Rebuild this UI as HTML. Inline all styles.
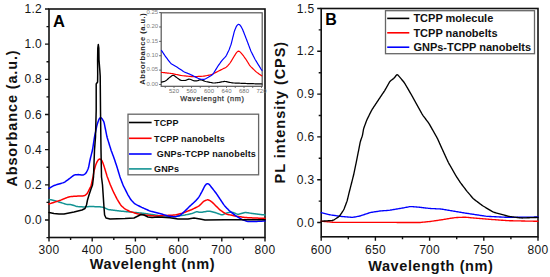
<!DOCTYPE html>
<html><head><meta charset="utf-8"><style>
html,body{margin:0;padding:0;background:#fff;}
body{width:550px;height:277px;overflow:hidden;}
svg{display:block;font-family:"Liberation Sans", sans-serif;}
</style></head><body>
<svg width="550" height="277" viewBox="0 0 550 277">
<rect width="550" height="277" fill="#fff"/>
<rect x="49" y="9" width="216" height="228.5" fill="none" stroke="#111111" stroke-width="1.6"/>
<rect x="321.2" y="8.5" width="216.8" height="228.3" fill="none" stroke="#111111" stroke-width="1.6"/>
<path d="M46.5,237.58 H49 M45,220.00 H49 M46.5,202.42 H49 M45,184.83 H49 M46.5,167.25 H49 M45,149.67 H49 M46.5,132.08 H49 M45,114.50 H49 M46.5,96.92 H49 M45,79.34 H49 M46.5,61.75 H49 M45,44.17 H49 M46.5,26.59 H49 M45,9.00 H49 M49.00,237.5 V241.5 M70.60,237.5 V240.0 M92.20,237.5 V241.5 M113.80,237.5 V240.0 M135.40,237.5 V241.5 M157.00,237.5 V240.0 M178.60,237.5 V241.5 M200.20,237.5 V240.0 M221.80,237.5 V241.5 M243.40,237.5 V240.0 M265.00,237.5 V241.5 M317.2,222.50 H321.2 M318.7,201.10 H321.2 M317.2,179.70 H321.2 M318.7,158.30 H321.2 M317.2,136.90 H321.2 M318.7,115.50 H321.2 M317.2,94.10 H321.2 M318.7,72.70 H321.2 M317.2,51.30 H321.2 M318.7,29.90 H321.2 M317.2,8.50 H321.2 M321.20,236.8 V240.8 M348.30,236.8 V239.3 M375.40,236.8 V240.8 M402.50,236.8 V239.3 M429.60,236.8 V240.8 M456.70,236.8 V239.3 M483.80,236.8 V240.8 M510.90,236.8 V239.3 M538.00,236.8 V240.8" stroke="#111111" stroke-width="1.4" fill="none"/>
<text x="42" y="224.10" text-anchor="end" font-size="12" letter-spacing="0.3" fill="#151515">0.0</text>
<text x="42" y="188.93" text-anchor="end" font-size="12" letter-spacing="0.3" fill="#151515">0.2</text>
<text x="42" y="153.77" text-anchor="end" font-size="12" letter-spacing="0.3" fill="#151515">0.4</text>
<text x="42" y="118.60" text-anchor="end" font-size="12" letter-spacing="0.3" fill="#151515">0.6</text>
<text x="42" y="83.44" text-anchor="end" font-size="12" letter-spacing="0.3" fill="#151515">0.8</text>
<text x="42" y="48.27" text-anchor="end" font-size="12" letter-spacing="0.3" fill="#151515">1.0</text>
<text x="42" y="13.10" text-anchor="end" font-size="12" letter-spacing="0.3" fill="#151515">1.2</text>
<text x="49.00" y="253.8" text-anchor="middle" font-size="12" letter-spacing="0.3" fill="#151515">300</text>
<text x="92.20" y="253.8" text-anchor="middle" font-size="12" letter-spacing="0.3" fill="#151515">400</text>
<text x="135.40" y="253.8" text-anchor="middle" font-size="12" letter-spacing="0.3" fill="#151515">500</text>
<text x="178.60" y="253.8" text-anchor="middle" font-size="12" letter-spacing="0.3" fill="#151515">600</text>
<text x="221.80" y="253.8" text-anchor="middle" font-size="12" letter-spacing="0.3" fill="#151515">700</text>
<text x="265.00" y="253.8" text-anchor="middle" font-size="12" letter-spacing="0.3" fill="#151515">800</text>
<text x="314.4" y="226.60" text-anchor="end" font-size="12" letter-spacing="0.3" fill="#151515">0.0</text>
<text x="314.4" y="183.80" text-anchor="end" font-size="12" letter-spacing="0.3" fill="#151515">0.3</text>
<text x="314.4" y="141.00" text-anchor="end" font-size="12" letter-spacing="0.3" fill="#151515">0.6</text>
<text x="314.4" y="98.20" text-anchor="end" font-size="12" letter-spacing="0.3" fill="#151515">0.9</text>
<text x="314.4" y="55.40" text-anchor="end" font-size="12" letter-spacing="0.3" fill="#151515">1.2</text>
<text x="314.4" y="12.60" text-anchor="end" font-size="12" letter-spacing="0.3" fill="#151515">1.5</text>
<text x="321.20" y="254.2" text-anchor="middle" font-size="12" letter-spacing="0.3" fill="#151515">600</text>
<text x="375.40" y="254.2" text-anchor="middle" font-size="12" letter-spacing="0.3" fill="#151515">650</text>
<text x="429.60" y="254.2" text-anchor="middle" font-size="12" letter-spacing="0.3" fill="#151515">700</text>
<text x="483.80" y="254.2" text-anchor="middle" font-size="12" letter-spacing="0.3" fill="#151515">750</text>
<text x="538.00" y="254.2" text-anchor="middle" font-size="12" letter-spacing="0.3" fill="#151515">800</text>
<text x="89.8" y="268.5" font-size="14.5" font-weight="bold" letter-spacing="0.6" fill="#111">Wavelenght (nm)</text>
<text x="368.2" y="270.5" font-size="14.5" font-weight="bold" letter-spacing="0.6" fill="#111">Wavelength (nm)</text>
<text transform="translate(17.0,186.6) rotate(-90)" font-size="14.5" font-weight="bold" letter-spacing="0.86" fill="#111">Absorbance (a.u.)</text>
<text transform="translate(284.7,183.4) rotate(-90)" font-size="14.5" font-weight="bold" letter-spacing="0.95" fill="#111">PL intensity (CPS)</text>
<text x="53" y="26.8" font-size="16.5" font-weight="bold" fill="#000">A</text>
<text x="325.2" y="24.6" font-size="16" font-weight="bold" fill="#000">B</text>
<rect x="161.2" y="12.8" width="101.0" height="73.5" fill="#fff" stroke="#555" stroke-width="1.2"/>
<path d="M159.2,84.50 H161.2 M159.2,70.12 H161.2 M159.2,55.74 H161.2 M159.2,41.36 H161.2 M159.2,26.98 H161.2 M159.2,12.60 H161.2 M165.25,86.3 V87.8 M174.00,86.3 V87.8 M182.75,86.3 V87.8 M191.50,86.3 V87.8 M200.25,86.3 V87.8 M209.00,86.3 V87.8 M217.75,86.3 V87.8 M226.50,86.3 V87.8 M235.25,86.3 V87.8 M244.00,86.3 V87.8 M252.75,86.3 V87.8 M261.50,86.3 V87.8" stroke="#555" stroke-width="1" fill="none"/>
<text x="158.2" y="85.70" text-anchor="end" font-size="6" fill="#808080">0.00</text>
<text x="158.2" y="71.32" text-anchor="end" font-size="6" fill="#808080">0.05</text>
<text x="158.2" y="56.94" text-anchor="end" font-size="6" fill="#808080">0.10</text>
<text x="158.2" y="42.56" text-anchor="end" font-size="6" fill="#808080">0.15</text>
<text x="158.2" y="28.18" text-anchor="end" font-size="6" fill="#808080">0.20</text>
<text x="158.2" y="13.80" text-anchor="end" font-size="6" fill="#808080">0.25</text>
<text x="174.00" y="93.4" text-anchor="middle" font-size="6" fill="#707070">520</text>
<text x="191.50" y="93.4" text-anchor="middle" font-size="6" fill="#707070">560</text>
<text x="209.00" y="93.4" text-anchor="middle" font-size="6" fill="#707070">600</text>
<text x="226.50" y="93.4" text-anchor="middle" font-size="6" fill="#707070">640</text>
<text x="244.00" y="93.4" text-anchor="middle" font-size="6" fill="#707070">680</text>
<text x="261.50" y="93.4" text-anchor="middle" font-size="6" fill="#707070">720</text>
<text x="180.2" y="101.3" font-size="7.3" letter-spacing="0.6" fill="#333" stroke="#333" stroke-width="0.25">Wavelenght (nm)</text>
<text transform="translate(145.0,84.7) rotate(-90)" font-size="7.5" font-weight="bold" letter-spacing="0.5" fill="#222">Absorbance (a.u.)</text>
<path d="M49.00,199.50 L50.07,199.68 L50.98,199.83 L51.95,200.03 L52.92,200.27 L53.88,200.54 L54.84,200.81 L55.81,201.09 L56.77,201.36 L57.73,201.64 L58.69,201.92 L59.65,202.21 L60.60,202.50 L61.56,202.80 L62.51,203.10 L63.47,203.40 L64.42,203.69 L65.38,203.99 L66.33,204.25 L67.31,204.43 L68.30,204.49 L69.30,204.50 L70.29,204.54 L71.27,204.67 L72.23,204.92 L73.18,205.23 L74.13,205.54 L75.08,205.86 L76.03,206.17 L76.99,206.41 L77.97,206.56 L78.97,206.64 L79.96,206.71 L80.96,206.78 L81.96,206.85 L82.96,206.92 L83.95,206.95 L84.95,206.91 L85.95,206.84 L86.94,206.75 L87.94,206.67 L88.94,206.59 L89.93,206.54 L90.93,206.53 L91.93,206.56 L92.93,206.59 L93.93,206.62 L94.93,206.65 L95.93,206.68 L96.93,206.71 L97.93,206.74 L98.93,206.77 L99.92,206.84 L100.91,206.97 L101.90,207.13 L102.88,207.31 L103.84,207.56 L104.77,207.91 L105.67,208.34 L106.57,208.78 L107.47,209.18 L108.41,209.48 L109.39,209.66 L110.38,209.80 L111.37,209.92 L112.36,210.05 L113.35,210.17 L114.35,210.29 L115.34,210.42 L116.33,210.54 L117.32,210.67 L118.32,210.79 L119.31,210.91 L120.30,211.02 L121.30,211.13 L122.29,211.23 L123.29,211.33 L124.28,211.43 L125.28,211.53 L126.27,211.63 L127.27,211.73 L128.26,211.83 L129.26,211.93 L130.25,212.03 L131.25,212.12 L132.24,212.22 L133.24,212.32 L134.23,212.42 L135.23,212.52 L136.22,212.62 L137.22,212.72 L138.21,212.82 L139.21,212.92 L140.20,213.02 L141.20,213.12 L142.19,213.22 L143.19,213.32 L144.18,213.42 L145.17,213.54 L146.17,213.68 L147.15,213.82 L148.14,213.97 L149.13,214.12 L150.12,214.27 L151.11,214.42 L152.10,214.56 L153.09,214.71 L154.08,214.86 L155.07,215.01 L156.05,215.17 L157.04,215.33 L158.03,215.48 L159.02,215.64 L160.01,215.76 L161.00,215.84 L162.00,215.89 L163.00,215.94 L164.00,215.99 L165.00,216.03 L166.00,216.08 L167.00,216.13 L167.99,216.17 L168.99,216.22 L169.99,216.27 L170.99,216.31 L171.99,216.36 L172.99,216.41 L173.99,216.44 L174.98,216.44 L175.98,216.34 L176.96,216.20 L177.95,216.06 L178.94,215.91 L179.93,215.76 L180.92,215.61 L181.91,215.46 L182.90,215.32 L183.89,215.16 L184.87,215.00 L185.85,214.81 L186.83,214.61 L187.81,214.40 L188.79,214.19 L189.77,213.98 L190.74,213.76 L191.71,213.52 L192.66,213.21 L193.59,212.86 L194.52,212.49 L195.45,212.13 L196.38,211.84 L197.32,211.76 L198.26,211.94 L199.21,212.20 L200.18,212.34 L201.15,212.29 L202.14,212.14 L203.13,211.98 L204.11,211.81 L205.10,211.65 L206.08,211.49 L207.07,211.32 L208.06,211.18 L209.04,211.14 L210.01,211.27 L210.98,211.50 L211.95,211.74 L212.92,211.98 L213.89,212.23 L214.86,212.49 L215.81,212.80 L216.75,213.13 L217.69,213.46 L218.63,213.80 L219.58,214.13 L220.52,214.46 L221.46,214.69 L222.39,214.69 L223.32,214.43 L224.24,214.07 L225.16,213.68 L226.09,213.30 L227.01,212.92 L227.95,212.61 L228.92,212.40 L229.91,212.26 L230.90,212.16 L231.88,212.16 L232.82,212.38 L233.75,212.73 L234.67,213.11 L235.60,213.50 L236.52,213.87 L237.45,214.17 L238.39,214.25 L239.34,214.08 L240.29,213.81 L241.25,213.52 L242.21,213.24 L243.17,212.95 L244.13,212.69 L245.10,212.54 L246.08,212.57 L247.07,212.70 L248.06,212.84 L249.05,212.98 L250.03,213.13 L251.02,213.27 L252.01,213.41 L253.00,213.56 L253.99,213.69 L254.99,213.82 L255.98,213.93 L256.97,214.05 L257.97,214.17 L258.96,214.29 L259.95,214.40 L260.95,214.52 L261.94,214.64 L262.93,214.76 L263.89,214.87 L264.61,214.95 L265.00,215.00" fill="none" stroke="#139393" stroke-width="1.5" stroke-linejoin="round" stroke-linecap="round"/>
<path d="M49.00,204.00 L50.03,203.66 L50.90,203.37 L51.85,203.05 L52.79,202.74 L53.74,202.42 L54.69,202.10 L55.64,201.79 L56.59,201.47 L57.54,201.15 L58.49,200.84 L59.44,200.52 L60.38,200.20 L61.32,199.85 L62.25,199.48 L63.17,199.10 L64.09,198.71 L65.02,198.33 L65.94,197.95 L66.88,197.60 L67.83,197.31 L68.80,197.05 L69.77,196.81 L70.74,196.61 L71.73,196.48 L72.72,196.39 L73.72,196.33 L74.72,196.27 L75.72,196.21 L76.72,196.14 L77.71,196.08 L78.71,196.03 L79.71,196.01 L80.71,196.00 L81.71,196.00 L82.71,195.98 L83.67,195.87 L84.57,195.54 L85.42,195.04 L86.23,194.47 L86.94,193.81 L87.48,193.00 L87.94,192.12 L88.39,191.22 L88.84,190.33 L89.28,189.43 L89.73,188.54 L90.18,187.64 L90.61,186.74 L90.97,185.82 L91.24,184.86 L91.47,183.89 L91.69,182.91 L91.90,181.94 L92.12,180.96 L92.34,179.98 L92.55,179.01 L92.77,178.03 L92.97,177.05 L93.15,176.07 L93.32,175.08 L93.48,174.10 L93.65,173.11 L93.82,172.13 L94.01,171.15 L94.25,170.18 L94.51,169.21 L94.79,168.25 L95.06,167.29 L95.34,166.33 L95.61,165.37 L95.92,164.42 L96.29,163.49 L96.71,162.59 L97.16,161.69 L97.63,160.82 L98.19,160.02 L98.90,159.38 L99.67,159.01 L100.42,159.13 L101.12,159.67 L101.75,160.40 L102.23,161.26 L102.60,162.17 L102.95,163.11 L103.29,164.05 L103.63,164.99 L103.96,165.94 L104.26,166.89 L104.55,167.85 L104.84,168.80 L105.13,169.76 L105.42,170.72 L105.70,171.68 L105.99,172.63 L106.28,173.59 L106.57,174.55 L106.86,175.50 L107.18,176.45 L107.52,177.39 L107.87,178.33 L108.22,179.26 L108.58,180.20 L108.93,181.14 L109.28,182.07 L109.63,183.01 L109.99,183.94 L110.37,184.87 L110.77,185.79 L111.16,186.70 L111.55,187.62 L111.95,188.54 L112.34,189.46 L112.74,190.38 L113.16,191.29 L113.59,192.19 L114.04,193.08 L114.49,193.98 L114.94,194.87 L115.38,195.76 L115.83,196.66 L116.28,197.55 L116.74,198.44 L117.22,199.32 L117.73,200.18 L118.25,201.03 L118.77,201.88 L119.30,202.73 L119.82,203.58 L120.35,204.43 L120.93,205.24 L121.59,205.97 L122.32,206.65 L123.07,207.31 L123.83,207.97 L124.60,208.59 L125.42,209.15 L126.29,209.64 L127.18,210.09 L128.07,210.54 L128.97,210.98 L129.88,211.39 L130.81,211.74 L131.76,212.05 L132.72,212.35 L133.67,212.65 L134.62,212.95 L135.58,213.24 L136.53,213.54 L137.49,213.81 L138.47,214.04 L139.45,214.20 L140.44,214.35 L141.43,214.49 L142.42,214.63 L143.41,214.77 L144.40,214.91 L145.39,215.03 L146.39,215.14 L147.38,215.24 L148.38,215.34 L149.37,215.44 L150.37,215.54 L151.36,215.64 L152.36,215.74 L153.35,215.83 L154.35,215.91 L155.34,215.95 L156.34,215.93 L157.34,215.88 L158.34,215.83 L159.34,215.78 L160.34,215.73 L161.33,215.68 L162.33,215.63 L163.33,215.58 L164.33,215.53 L165.33,215.48 L166.33,215.43 L167.33,215.38 L168.33,215.33 L169.32,215.28 L170.32,215.23 L171.32,215.18 L172.32,215.13 L173.32,215.08 L174.31,215.01 L175.30,214.88 L176.28,214.67 L177.25,214.44 L178.22,214.20 L179.19,213.95 L180.16,213.71 L181.13,213.47 L182.10,213.22 L183.06,212.94 L184.00,212.61 L184.93,212.25 L185.86,211.89 L186.79,211.52 L187.73,211.16 L188.66,210.80 L189.59,210.44 L190.52,210.07 L191.45,209.70 L192.36,209.30 L193.26,208.87 L194.16,208.42 L195.05,207.97 L195.95,207.53 L196.84,207.08 L197.73,206.62 L198.59,206.13 L199.39,205.54 L200.12,204.87 L200.83,204.17 L201.54,203.46 L202.24,202.76 L202.96,202.06 L203.70,201.41 L204.52,200.88 L205.43,200.47 L206.36,200.13 L207.28,199.86 L208.19,199.85 L209.05,200.19 L209.90,200.69 L210.75,201.22 L211.57,201.78 L212.35,202.40 L213.08,203.08 L213.79,203.79 L214.50,204.50 L215.20,205.20 L215.91,205.91 L216.62,206.62 L217.32,207.32 L218.03,208.03 L218.74,208.74 L219.46,209.43 L220.21,210.08 L221.01,210.67 L221.84,211.23 L222.68,211.78 L223.51,212.34 L224.34,212.89 L225.18,213.43 L226.05,213.89 L226.99,214.20 L227.96,214.43 L228.93,214.65 L229.91,214.87 L230.88,215.09 L231.86,215.30 L232.84,215.52 L233.81,215.73 L234.79,215.94 L235.78,216.11 L236.76,216.26 L237.75,216.41 L238.74,216.56 L239.73,216.71 L240.72,216.86 L241.71,217.01 L242.70,217.15 L243.69,217.30 L244.68,217.43 L245.67,217.52 L246.67,217.58 L247.67,217.63 L248.67,217.68 L249.67,217.73 L250.67,217.78 L251.66,217.83 L252.66,217.88 L253.66,217.93 L254.66,217.98 L255.66,218.03 L256.66,218.07 L257.66,218.11 L258.66,218.15 L259.66,218.19 L260.66,218.23 L261.65,218.27 L262.65,218.31 L263.62,218.34 L264.41,218.38 L265.00,218.40" fill="none" stroke="#ff0000" stroke-width="1.5" stroke-linejoin="round" stroke-linecap="round"/>
<path d="M49.00,188.50 L49.93,187.94 L50.72,187.47 L51.57,186.96 L52.43,186.44 L53.30,185.95 L54.19,185.51 L55.12,185.17 L56.08,184.88 L57.04,184.59 L57.99,184.30 L58.95,184.01 L59.91,183.73 L60.87,183.44 L61.82,183.15 L62.78,182.86 L63.71,182.51 L64.58,182.05 L65.41,181.51 L66.24,180.94 L67.05,180.36 L67.87,179.79 L68.68,179.20 L69.48,178.60 L70.27,177.98 L71.05,177.36 L71.83,176.74 L72.61,176.12 L73.41,175.54 L74.28,175.10 L75.22,174.86 L76.21,174.73 L77.20,174.63 L78.19,174.61 L79.18,174.70 L80.16,174.85 L81.15,175.00 L82.13,175.11 L83.06,175.03 L83.93,174.65 L84.76,174.11 L85.53,173.50 L86.15,172.77 L86.64,171.92 L87.08,171.02 L87.50,170.11 L87.92,169.21 L88.30,168.29 L88.59,167.34 L88.80,166.37 L88.99,165.38 L89.17,164.40 L89.36,163.42 L89.54,162.43 L89.73,161.45 L89.92,160.47 L90.14,159.50 L90.37,158.52 L90.61,157.55 L90.85,156.58 L91.10,155.61 L91.34,154.64 L91.58,153.67 L91.82,152.70 L92.07,151.73 L92.30,150.76 L92.51,149.78 L92.68,148.80 L92.84,147.81 L92.99,146.82 L93.14,145.83 L93.29,144.85 L93.45,143.86 L93.60,142.87 L93.75,141.88 L93.90,140.89 L94.05,139.90 L94.21,138.92 L94.36,137.93 L94.53,136.94 L94.72,135.96 L94.92,134.98 L95.12,134.00 L95.33,133.02 L95.53,132.04 L95.74,131.07 L95.94,130.09 L96.14,129.11 L96.35,128.13 L96.55,127.15 L96.76,126.17 L96.99,125.20 L97.27,124.24 L97.57,123.29 L97.89,122.34 L98.20,121.39 L98.53,120.45 L98.89,119.53 L99.37,118.68 L99.96,117.98 L100.63,117.69 L101.34,118.01 L102.00,118.69 L102.56,119.51 L103.07,120.37 L103.54,121.24 L103.94,122.15 L104.21,123.10 L104.42,124.08 L104.61,125.06 L104.81,126.04 L105.00,127.02 L105.20,128.00 L105.40,128.98 L105.59,129.96 L105.79,130.94 L105.98,131.92 L106.18,132.90 L106.38,133.89 L106.57,134.87 L106.77,135.85 L106.99,136.82 L107.25,137.78 L107.54,138.74 L107.83,139.70 L108.12,140.65 L108.42,141.61 L108.71,142.57 L109.01,143.52 L109.30,144.48 L109.59,145.43 L109.89,146.39 L110.18,147.34 L110.48,148.30 L110.78,149.25 L111.09,150.20 L111.43,151.14 L111.78,152.08 L112.13,153.02 L112.48,153.95 L112.83,154.89 L113.18,155.83 L113.53,156.76 L113.88,157.70 L114.21,158.64 L114.53,159.59 L114.85,160.54 L115.16,161.49 L115.48,162.44 L115.80,163.39 L116.11,164.34 L116.43,165.28 L116.74,166.23 L117.05,167.19 L117.34,168.14 L117.63,169.10 L117.92,170.06 L118.20,171.01 L118.49,171.97 L118.78,172.93 L119.07,173.89 L119.35,174.85 L119.64,175.80 L119.94,176.76 L120.27,177.70 L120.62,178.64 L120.97,179.58 L121.32,180.51 L121.67,181.45 L122.02,182.38 L122.37,183.32 L122.73,184.25 L123.12,185.17 L123.54,186.08 L123.99,186.97 L124.43,187.87 L124.88,188.76 L125.33,189.66 L125.78,190.55 L126.22,191.45 L126.67,192.34 L127.12,193.23 L127.57,194.13 L128.03,195.01 L128.53,195.88 L129.04,196.74 L129.56,197.60 L130.07,198.45 L130.60,199.30 L131.19,200.10 L131.85,200.84 L132.55,201.55 L133.26,202.26 L133.97,202.96 L134.71,203.62 L135.51,204.20 L136.38,204.68 L137.27,205.14 L138.17,205.58 L139.06,206.03 L139.95,206.48 L140.85,206.92 L141.75,207.36 L142.66,207.78 L143.57,208.19 L144.49,208.59 L145.40,208.99 L146.32,209.39 L147.23,209.79 L148.15,210.19 L149.07,210.58 L150.00,210.94 L150.95,211.23 L151.92,211.48 L152.89,211.72 L153.86,211.97 L154.83,212.21 L155.80,212.45 L156.77,212.69 L157.74,212.94 L158.71,213.18 L159.68,213.43 L160.64,213.71 L161.60,214.00 L162.55,214.30 L163.51,214.60 L164.46,214.89 L165.41,215.19 L166.37,215.49 L167.33,215.77 L168.30,216.00 L169.28,216.18 L170.27,216.32 L171.26,216.47 L172.25,216.61 L173.24,216.74 L174.22,216.85 L175.20,216.83 L176.17,216.64 L177.13,216.36 L178.08,216.07 L179.03,215.77 L179.93,215.38 L180.73,214.82 L181.49,214.16 L182.23,213.49 L182.97,212.82 L183.72,212.15 L184.46,211.48 L185.18,210.80 L185.90,210.10 L186.61,209.39 L187.31,208.69 L188.02,207.98 L188.73,207.27 L189.44,206.57 L190.16,205.87 L190.89,205.20 L191.64,204.53 L192.38,203.86 L193.12,203.19 L193.86,202.52 L194.60,201.84 L195.30,201.13 L195.98,200.40 L196.64,199.65 L197.31,198.90 L197.97,198.15 L198.61,197.39 L199.18,196.58 L199.69,195.72 L200.18,194.85 L200.65,193.97 L201.13,193.09 L201.61,192.21 L202.08,191.33 L202.53,190.44 L202.98,189.54 L203.43,188.65 L203.87,187.75 L204.33,186.86 L204.81,185.99 L205.37,185.17 L206.01,184.43 L206.72,183.86 L207.52,183.67 L208.38,183.89 L209.16,184.41 L209.82,185.12 L210.43,185.91 L211.03,186.71 L211.64,187.51 L212.25,188.30 L212.87,189.08 L213.49,189.87 L214.12,190.65 L214.74,191.43 L215.36,192.21 L215.97,193.01 L216.54,193.82 L217.10,194.65 L217.66,195.48 L218.21,196.32 L218.77,197.15 L219.32,197.98 L219.88,198.81 L220.43,199.64 L220.98,200.48 L221.54,201.31 L222.09,202.14 L222.65,202.97 L223.21,203.80 L223.78,204.62 L224.40,205.40 L225.05,206.16 L225.72,206.90 L226.40,207.64 L227.07,208.38 L227.74,209.12 L228.42,209.85 L229.13,210.55 L229.89,211.19 L230.68,211.82 L231.46,212.43 L232.25,213.05 L233.03,213.67 L233.82,214.29 L234.61,214.90 L235.40,215.51 L236.22,216.08 L237.07,216.61 L237.93,217.11 L238.80,217.60 L239.67,218.10 L240.54,218.59 L241.41,219.09 L242.28,219.57 L243.18,219.99 L244.12,220.33 L245.07,220.62 L246.03,220.91 L246.99,221.19 L247.96,221.40 L248.95,221.48 L249.95,221.50 L250.95,221.50 L251.95,221.50 L252.95,221.50 L253.95,221.50 L254.95,221.48 L255.94,221.45 L256.94,221.40 L257.94,221.35 L258.94,221.30 L259.94,221.25 L260.94,221.20 L261.94,221.15 L262.93,221.10 L263.89,221.06 L264.62,221.02 L265.00,221.00" fill="none" stroke="#0000ff" stroke-width="1.5" stroke-linejoin="round" stroke-linecap="round"/>
<path d="M49.00,212.50 L54.00,213.50 L59.00,214.00 L64.00,214.00 L69.00,213.00 L74.00,212.00 L82.00,210.00 L85.00,208.50 L86.50,205.00 L87.50,200.00 L89.00,195.00 L91.00,189.00 L92.50,185.00 L93.50,177.00 L94.50,150.00 L95.50,137.00 L96.20,110.00 L96.20,84.00 L97.60,82.00 L97.70,74.00 L97.60,60.00 L97.80,48.00 L98.30,44.50 L98.80,48.00 L99.00,60.00 L99.80,70.00 L100.20,76.00 L100.50,110.00 L101.00,150.00 L101.50,177.00 L102.50,185.00 L103.50,200.00 L104.20,210.00 L104.60,215.00 L106.00,218.00 L110.00,219.00 L125.00,218.50 L134.00,218.00 L138.00,216.00 L141.00,214.50 L144.00,215.00 L148.00,217.00 L152.00,217.50 L158.00,217.00 L170.00,217.80 L178.00,219.00 L188.00,219.00 L194.00,218.00 L200.00,219.00 L205.00,220.00 L225.00,219.70 L265.00,219.70" fill="none" stroke="#000000" stroke-width="1.5" stroke-linejoin="round" stroke-linecap="round"/>
<path d="M161.50,82.20 L162.54,81.91 L163.43,81.67 L164.39,81.39 L165.30,81.03 L166.12,80.50 L166.89,79.87 L167.64,79.21 L168.39,78.55 L169.14,77.89 L169.91,77.25 L170.70,76.65 L171.51,76.06 L172.32,75.53 L173.13,75.28 L173.94,75.55 L174.74,76.10 L175.55,76.68 L176.36,77.27 L177.16,77.87 L177.97,78.47 L178.77,79.06 L179.58,79.64 L180.41,80.13 L181.32,80.41 L182.30,80.49 L183.29,80.50 L184.29,80.47 L185.26,80.34 L186.22,80.07 L187.15,79.74 L188.09,79.41 L189.02,79.19 L189.95,79.25 L190.87,79.55 L191.79,79.93 L192.71,80.32 L193.65,80.64 L194.62,80.84 L195.60,80.95 L196.58,80.95 L197.52,80.77 L198.42,80.39 L199.31,79.96 L200.20,79.70 L201.12,79.79 L202.04,80.10 L202.97,80.47 L203.90,80.84 L204.83,81.20 L205.77,81.53 L206.74,81.77 L207.72,81.96 L208.70,82.15 L209.68,82.34 L210.66,82.52 L211.65,82.71 L212.63,82.89 L213.61,83.00 L214.60,82.98 L215.60,82.88 L216.59,82.77 L217.58,82.66 L218.58,82.53 L219.56,82.36 L220.54,82.17 L221.52,81.96 L222.50,81.75 L223.47,81.56 L224.45,81.45 L225.43,81.51 L226.41,81.68 L227.39,81.88 L228.37,82.08 L229.35,82.29 L230.33,82.49 L231.31,82.69 L232.29,82.85 L233.28,82.94 L234.28,82.99 L235.28,83.04 L236.28,83.08 L237.28,83.13 L238.28,83.17 L239.28,83.22 L240.28,83.27 L241.27,83.31 L242.27,83.36 L243.27,83.40 L244.27,83.43 L245.27,83.47 L246.27,83.50 L247.27,83.53 L248.27,83.56 L249.27,83.59 L250.27,83.63 L251.27,83.66 L252.27,83.69 L253.27,83.72 L254.27,83.75 L255.27,83.79 L256.27,83.82 L257.27,83.85 L258.26,83.88 L259.26,83.91 L260.25,83.94 L261.11,83.97 L262.00,84.00" fill="none" stroke="#000000" stroke-width="1.2" stroke-linejoin="round" stroke-linecap="round"/>
<path d="M161.50,72.40 L162.58,72.51 L163.49,72.61 L164.48,72.72 L165.48,72.82 L166.47,72.93 L167.47,73.03 L168.46,73.14 L169.45,73.25 L170.45,73.37 L171.43,73.52 L172.42,73.71 L173.40,73.90 L174.38,74.10 L175.36,74.30 L176.34,74.50 L177.32,74.70 L178.30,74.89 L179.28,75.09 L180.26,75.29 L181.24,75.47 L182.23,75.62 L183.22,75.74 L184.21,75.84 L185.21,75.94 L186.20,76.04 L187.20,76.14 L188.19,76.25 L189.19,76.35 L190.18,76.45 L191.18,76.54 L192.18,76.62 L193.17,76.65 L194.17,76.63 L195.17,76.59 L196.17,76.54 L197.17,76.50 L198.17,76.45 L199.16,76.40 L200.16,76.36 L201.16,76.31 L202.16,76.26 L203.16,76.19 L204.15,76.07 L205.13,75.90 L206.11,75.72 L207.10,75.53 L208.08,75.34 L209.06,75.15 L210.04,74.95 L211.01,74.72 L211.94,74.38 L212.84,73.96 L213.73,73.52 L214.63,73.07 L215.52,72.61 L216.41,72.16 L217.30,71.71 L218.20,71.26 L219.09,70.81 L219.98,70.36 L220.88,69.91 L221.77,69.46 L222.67,69.02 L223.56,68.57 L224.45,68.12 L225.34,67.67 L226.19,67.15 L226.94,66.52 L227.62,65.80 L228.27,65.05 L228.93,64.29 L229.58,63.53 L230.19,62.75 L230.75,61.92 L231.28,61.07 L231.80,60.22 L232.31,59.36 L232.83,58.51 L233.35,57.65 L233.86,56.79 L234.39,55.94 L234.91,55.09 L235.43,54.24 L235.96,53.39 L236.55,52.59 L237.23,51.88 L237.97,51.34 L238.73,51.17 L239.51,51.51 L240.28,52.11 L240.97,52.81 L241.63,53.57 L242.26,54.34 L242.89,55.12 L243.48,55.92 L244.07,56.73 L244.65,57.55 L245.23,58.36 L245.81,59.18 L246.37,60.00 L246.91,60.85 L247.43,61.70 L247.94,62.56 L248.46,63.41 L248.98,64.27 L249.51,65.11 L250.10,65.91 L250.78,66.64 L251.49,67.34 L252.21,68.03 L252.92,68.73 L253.64,69.43 L254.36,70.12 L255.08,70.82 L255.81,71.50 L256.57,72.14 L257.37,72.75 L258.18,73.32 L259.00,73.90 L259.82,74.47 L260.61,75.03 L261.24,75.48 L261.70,75.80" fill="none" stroke="#ff0000" stroke-width="1.2" stroke-linejoin="round" stroke-linecap="round"/>
<path d="M161.50,50.50 L162.10,51.40 L162.61,52.17 L163.16,53.00 L163.72,53.83 L164.27,54.66 L164.83,55.49 L165.40,56.31 L165.98,57.12 L166.58,57.92 L167.19,58.72 L167.79,59.52 L168.40,60.31 L169.00,61.11 L169.61,61.90 L170.22,62.69 L170.89,63.41 L171.67,64.02 L172.52,64.54 L173.38,65.05 L174.24,65.55 L175.10,66.06 L175.97,66.56 L176.83,67.07 L177.68,67.60 L178.51,68.14 L179.35,68.70 L180.18,69.25 L181.01,69.81 L181.84,70.36 L182.68,70.91 L183.52,71.44 L184.39,71.92 L185.30,72.34 L186.22,72.72 L187.15,73.11 L188.07,73.49 L188.99,73.88 L189.91,74.27 L190.82,74.68 L191.72,75.11 L192.62,75.56 L193.51,76.01 L194.41,76.45 L195.30,76.90 L196.20,77.35 L197.09,77.80 L197.99,78.24 L198.90,78.63 L199.84,78.91 L200.82,79.09 L201.81,79.22 L202.80,79.33 L203.77,79.32 L204.70,79.09 L205.60,78.69 L206.50,78.25 L207.39,77.79 L208.26,77.32 L209.13,76.81 L209.98,76.29 L210.84,75.77 L211.68,75.24 L212.45,74.63 L213.07,73.89 L213.62,73.06 L214.15,72.21 L214.68,71.36 L215.21,70.51 L215.73,69.66 L216.26,68.81 L216.79,67.96 L217.32,67.12 L217.87,66.28 L218.43,65.45 L219.00,64.63 L219.58,63.81 L220.15,62.99 L220.72,62.17 L221.30,61.36 L221.90,60.56 L222.54,59.80 L223.23,59.08 L223.93,58.37 L224.64,57.66 L225.32,56.93 L225.93,56.15 L226.42,55.30 L226.87,54.40 L227.30,53.50 L227.74,52.60 L228.17,51.70 L228.60,50.80 L229.01,49.89 L229.38,48.96 L229.73,48.02 L230.07,47.08 L230.41,46.14 L230.76,45.20 L231.08,44.26 L231.36,43.30 L231.61,42.33 L231.85,41.36 L232.10,40.39 L232.34,39.42 L232.58,38.45 L232.82,37.48 L233.06,36.51 L233.30,35.54 L233.54,34.57 L233.78,33.60 L234.02,32.63 L234.28,31.66 L234.59,30.71 L234.95,29.78 L235.32,28.86 L235.71,27.93 L236.10,27.01 L236.56,26.14 L237.15,25.36 L237.82,24.67 L238.53,24.29 L239.25,24.49 L239.96,25.08 L240.59,25.83 L241.12,26.67 L241.60,27.54 L242.07,28.43 L242.52,29.32 L242.91,30.23 L243.28,31.16 L243.65,32.09 L244.01,33.03 L244.37,33.96 L244.74,34.89 L245.10,35.82 L245.46,36.75 L245.82,37.69 L246.18,38.62 L246.55,39.55 L246.91,40.48 L247.27,41.42 L247.63,42.35 L247.98,43.29 L248.32,44.22 L248.67,45.16 L249.02,46.10 L249.37,47.04 L249.72,47.97 L250.06,48.91 L250.41,49.85 L250.79,50.77 L251.20,51.68 L251.65,52.58 L252.10,53.47 L252.55,54.36 L253.00,55.25 L253.45,56.15 L253.90,57.04 L254.36,57.93 L254.81,58.82 L255.29,59.70 L255.79,60.56 L256.31,61.42 L256.84,62.27 L257.36,63.12 L257.88,63.97 L258.41,64.82 L258.93,65.68 L259.45,66.53 L259.98,67.38 L260.51,68.23 L261.04,69.06 L261.52,69.77 L262.00,70.50" fill="none" stroke="#0000ff" stroke-width="1.2" stroke-linejoin="round" stroke-linecap="round"/>
<path d="M321.20,221.20 L322.28,221.30 L323.20,221.39 L324.19,221.48 L325.18,221.57 L326.18,221.66 L327.17,221.76 L328.17,221.85 L329.17,221.94 L330.16,222.04 L331.16,222.13 L332.15,222.21 L333.15,222.28 L334.15,222.30 L335.15,222.30 L336.15,222.31 L337.15,222.31 L338.15,222.31 L339.15,222.31 L340.15,222.32 L341.15,222.32 L342.15,222.32 L343.15,222.32 L344.15,222.33 L345.15,222.33 L346.15,222.33 L347.15,222.33 L348.15,222.33 L349.15,222.34 L350.15,222.34 L351.15,222.34 L352.15,222.34 L353.15,222.35 L354.15,222.35 L355.15,222.35 L356.15,222.35 L357.15,222.36 L358.15,222.36 L359.15,222.36 L360.15,222.36 L361.15,222.36 L362.15,222.37 L363.15,222.37 L364.15,222.37 L365.15,222.37 L366.15,222.38 L367.15,222.38 L368.15,222.38 L369.15,222.38 L370.15,222.39 L371.15,222.39 L372.15,222.39 L373.15,222.39 L374.15,222.39 L375.15,222.40 L376.15,222.40 L377.15,222.40 L378.15,222.40 L379.15,222.41 L380.15,222.41 L381.15,222.41 L382.15,222.41 L383.15,222.42 L384.15,222.42 L385.15,222.42 L386.15,222.42 L387.15,222.42 L388.15,222.43 L389.15,222.43 L390.15,222.43 L391.15,222.43 L392.15,222.44 L393.15,222.44 L394.15,222.44 L395.15,222.44 L396.15,222.45 L397.15,222.45 L398.15,222.45 L399.15,222.45 L400.15,222.45 L401.15,222.46 L402.15,222.46 L403.15,222.46 L404.15,222.46 L405.15,222.47 L406.15,222.47 L407.15,222.47 L408.15,222.47 L409.15,222.48 L410.15,222.48 L411.15,222.48 L412.15,222.48 L413.15,222.48 L414.15,222.49 L415.15,222.49 L416.15,222.49 L417.15,222.49 L418.15,222.49 L419.15,222.49 L420.15,222.46 L421.14,222.38 L422.14,222.29 L423.13,222.19 L424.13,222.09 L425.12,221.99 L426.12,221.89 L427.11,221.79 L428.11,221.69 L429.10,221.59 L430.10,221.47 L431.09,221.34 L432.08,221.19 L433.07,221.05 L434.05,220.90 L435.04,220.75 L436.03,220.60 L437.02,220.46 L438.01,220.31 L439.00,220.16 L439.99,220.02 L440.98,219.87 L441.97,219.72 L442.96,219.57 L443.94,219.41 L444.93,219.25 L445.92,219.09 L446.90,218.93 L447.89,218.77 L448.88,218.60 L449.86,218.44 L450.85,218.28 L451.84,218.12 L452.82,217.96 L453.81,217.80 L454.80,217.67 L455.80,217.58 L456.79,217.53 L457.79,217.49 L458.79,217.45 L459.79,217.41 L460.79,217.37 L461.79,217.33 L462.79,217.29 L463.79,217.25 L464.79,217.24 L465.78,217.28 L466.78,217.36 L467.78,217.45 L468.77,217.53 L469.77,217.62 L470.77,217.71 L471.76,217.80 L472.76,217.89 L473.75,217.97 L474.75,218.06 L475.75,218.15 L476.74,218.24 L477.74,218.33 L478.73,218.41 L479.73,218.50 L480.73,218.59 L481.72,218.68 L482.72,218.77 L483.71,218.85 L484.71,218.94 L485.71,219.03 L486.70,219.11 L487.70,219.19 L488.70,219.26 L489.70,219.33 L490.69,219.41 L491.69,219.48 L492.69,219.55 L493.68,219.63 L494.68,219.70 L495.68,219.77 L496.68,219.85 L497.67,219.92 L498.67,219.99 L499.67,220.07 L500.67,220.14 L501.66,220.21 L502.66,220.29 L503.66,220.36 L504.66,220.43 L505.65,220.51 L506.65,220.58 L507.65,220.64 L508.65,220.70 L509.65,220.73 L510.64,220.75 L511.64,220.77 L512.64,220.79 L513.64,220.81 L514.64,220.83 L515.64,220.85 L516.64,220.87 L517.64,220.89 L518.64,220.91 L519.64,220.93 L520.64,220.95 L521.64,220.97 L522.64,220.99 L523.64,221.01 L524.64,221.03 L525.64,221.05 L526.64,221.07 L527.64,221.09 L528.64,221.11 L529.64,221.13 L530.64,221.15 L531.64,221.17 L532.64,221.19 L533.64,221.21 L534.64,221.23 L535.64,221.25 L536.61,221.27 L537.40,221.29 L538.00,221.30" fill="none" stroke="#ff0000" stroke-width="1.35" stroke-linejoin="round" stroke-linecap="round"/>
<path d="M321.20,212.70 L322.25,212.95 L323.15,213.17 L324.12,213.40 L325.09,213.63 L326.06,213.86 L327.04,214.09 L328.01,214.32 L328.98,214.55 L329.96,214.76 L330.94,214.94 L331.93,215.09 L332.92,215.24 L333.91,215.39 L334.90,215.53 L335.89,215.68 L336.88,215.83 L337.86,215.98 L338.85,216.13 L339.84,216.26 L340.84,216.37 L341.83,216.46 L342.83,216.55 L343.83,216.63 L344.82,216.72 L345.82,216.81 L346.82,216.89 L347.81,216.98 L348.81,217.07 L349.80,217.16 L350.80,217.24 L351.79,217.30 L352.79,217.29 L353.77,217.17 L354.75,216.99 L355.74,216.81 L356.72,216.62 L357.70,216.43 L358.68,216.25 L359.66,216.03 L360.62,215.77 L361.57,215.47 L362.52,215.15 L363.47,214.83 L364.42,214.51 L365.37,214.19 L366.31,213.88 L367.26,213.56 L368.21,213.24 L369.16,212.92 L370.11,212.64 L371.09,212.41 L372.07,212.24 L373.06,212.09 L374.04,211.93 L375.03,211.78 L376.02,211.62 L377.01,211.47 L378.00,211.31 L378.98,211.16 L379.98,211.03 L380.97,210.93 L381.97,210.85 L382.96,210.78 L383.96,210.70 L384.96,210.63 L385.96,210.55 L386.95,210.48 L387.95,210.40 L388.94,210.31 L389.94,210.18 L390.92,210.03 L391.91,209.86 L392.90,209.70 L393.88,209.53 L394.87,209.36 L395.85,209.20 L396.84,209.03 L397.83,208.87 L398.81,208.70 L399.80,208.53 L400.78,208.35 L401.76,208.17 L402.75,207.98 L403.73,207.80 L404.71,207.61 L405.70,207.43 L406.68,207.24 L407.66,207.05 L408.64,206.87 L409.63,206.70 L410.61,206.59 L411.61,206.60 L412.60,206.67 L413.60,206.76 L414.59,206.84 L415.59,206.92 L416.59,207.01 L417.58,207.09 L418.58,207.18 L419.58,207.27 L420.57,207.37 L421.56,207.49 L422.56,207.61 L423.55,207.73 L424.54,207.85 L425.53,207.96 L426.53,208.08 L427.52,208.20 L428.51,208.32 L429.51,208.43 L430.50,208.51 L431.50,208.57 L432.50,208.61 L433.50,208.66 L434.50,208.70 L435.50,208.75 L436.50,208.80 L437.50,208.84 L438.49,208.89 L439.49,208.93 L440.49,209.00 L441.48,209.10 L442.47,209.25 L443.46,209.41 L444.44,209.58 L445.43,209.75 L446.41,209.91 L447.40,210.08 L448.39,210.25 L449.37,210.41 L450.36,210.58 L451.35,210.75 L452.33,210.91 L453.32,211.08 L454.30,211.25 L455.29,211.41 L456.28,211.58 L457.26,211.74 L458.25,211.91 L459.23,212.08 L460.22,212.24 L461.21,212.41 L462.19,212.58 L463.18,212.74 L464.16,212.91 L465.15,213.07 L466.14,213.22 L467.13,213.37 L468.12,213.52 L469.11,213.67 L470.09,213.82 L471.08,213.97 L472.07,214.12 L473.06,214.27 L474.05,214.42 L475.04,214.56 L476.03,214.71 L477.02,214.86 L478.00,215.01 L478.99,215.16 L479.98,215.31 L480.97,215.46 L481.96,215.61 L482.95,215.76 L483.94,215.91 L484.93,216.06 L485.92,216.20 L486.91,216.30 L487.91,216.37 L488.90,216.42 L489.90,216.47 L490.90,216.52 L491.90,216.57 L492.90,216.62 L493.90,216.67 L494.90,216.72 L495.90,216.77 L496.89,216.82 L497.89,216.87 L498.89,216.93 L499.89,216.98 L500.89,217.03 L501.89,217.08 L502.89,217.13 L503.89,217.18 L504.88,217.23 L505.88,217.28 L506.88,217.33 L507.88,217.37 L508.88,217.38 L509.88,217.38 L510.88,217.37 L511.88,217.35 L512.88,217.34 L513.88,217.32 L514.88,217.31 L515.88,217.30 L516.88,217.28 L517.88,217.27 L518.88,217.26 L519.88,217.24 L520.88,217.23 L521.88,217.22 L522.88,217.20 L523.88,217.19 L524.88,217.18 L525.88,217.16 L526.88,217.15 L527.88,217.14 L528.88,217.12 L529.88,217.11 L530.88,217.10 L531.88,217.08 L532.88,217.07 L533.88,217.06 L534.88,217.04 L535.88,217.03 L536.84,217.02 L537.58,217.01 L538.00,217.00" fill="none" stroke="#0000ff" stroke-width="1.35" stroke-linejoin="round" stroke-linecap="round"/>
<path d="M321.20,221.20 L322.28,221.14 L323.20,221.08 L324.19,221.02 L325.19,220.96 L326.19,220.90 L327.19,220.84 L328.19,220.79 L329.19,220.73 L330.18,220.67 L331.18,220.60 L332.17,220.50 L333.11,220.27 L333.98,219.83 L334.82,219.30 L335.65,218.75 L336.49,218.19 L337.32,217.64 L338.15,217.09 L338.95,216.50 L339.65,215.82 L340.26,215.04 L340.82,214.21 L341.37,213.38 L341.92,212.54 L342.47,211.71 L343.02,210.87 L343.53,210.02 L343.98,209.13 L344.36,208.21 L344.72,207.28 L345.07,206.34 L345.43,205.41 L345.78,204.47 L346.14,203.54 L346.49,202.60 L346.83,201.66 L347.14,200.71 L347.40,199.75 L347.64,198.78 L347.87,197.80 L348.11,196.83 L348.34,195.86 L348.58,194.89 L348.81,193.92 L349.05,192.94 L349.29,191.97 L349.53,191.00 L349.78,190.04 L350.03,189.07 L350.27,188.10 L350.52,187.13 L350.77,186.16 L351.02,185.19 L351.27,184.22 L351.51,183.25 L351.76,182.28 L352.00,181.31 L352.25,180.35 L352.49,179.38 L352.74,178.41 L352.98,177.44 L353.23,176.47 L353.47,175.50 L353.69,174.52 L353.91,173.55 L354.11,172.57 L354.32,171.59 L354.52,170.61 L354.73,169.63 L354.94,168.65 L355.14,167.67 L355.35,166.70 L355.55,165.72 L355.75,164.74 L355.95,163.76 L356.14,162.78 L356.34,161.80 L356.54,160.81 L356.73,159.83 L356.93,158.85 L357.13,157.87 L357.32,156.89 L357.52,155.91 L357.71,154.93 L357.91,153.95 L358.11,152.97 L358.30,151.99 L358.49,151.01 L358.68,150.03 L358.87,149.04 L359.06,148.06 L359.25,147.08 L359.44,146.10 L359.64,145.12 L359.83,144.14 L360.02,143.15 L360.23,142.18 L360.49,141.21 L360.79,140.26 L361.11,139.31 L361.43,138.37 L361.75,137.42 L362.07,136.47 L362.36,135.52 L362.59,134.55 L362.77,133.57 L362.94,132.58 L363.11,131.59 L363.28,130.61 L363.45,129.63 L363.68,128.65 L363.97,127.70 L364.31,126.76 L364.66,125.82 L365.00,124.89 L365.35,123.95 L365.69,123.01 L366.04,122.07 L366.39,121.13 L366.75,120.20 L367.16,119.29 L367.60,118.39 L368.04,117.50 L368.48,116.60 L368.93,115.70 L369.37,114.81 L369.81,113.91 L370.26,113.01 L370.70,112.12 L371.15,111.22 L371.62,110.34 L372.13,109.48 L372.67,108.64 L373.22,107.81 L373.77,106.98 L374.32,106.14 L374.88,105.31 L375.43,104.48 L375.98,103.64 L376.54,102.81 L377.09,101.98 L377.64,101.14 L378.19,100.31 L378.75,99.48 L379.31,98.65 L379.86,97.82 L380.42,96.99 L380.98,96.16 L381.53,95.33 L382.09,94.49 L382.65,93.66 L383.20,92.83 L383.76,92.00 L384.31,91.17 L384.84,90.32 L385.34,89.46 L385.84,88.59 L386.33,87.72 L386.82,86.84 L387.31,85.97 L387.80,85.10 L388.29,84.23 L388.78,83.36 L389.28,82.49 L389.82,81.67 L390.47,80.94 L391.23,80.30 L392.02,79.70 L392.82,79.10 L393.61,78.48 L394.33,77.81 L394.97,77.05 L395.56,76.25 L396.14,75.46 L396.74,74.84 L397.35,74.72 L397.99,75.17 L398.64,75.89 L399.29,76.65 L399.94,77.40 L400.59,78.16 L401.24,78.92 L401.89,79.69 L402.54,80.45 L403.18,81.22 L403.80,82.00 L404.37,82.81 L404.90,83.66 L405.41,84.52 L405.92,85.38 L406.43,86.24 L406.94,87.10 L407.45,87.96 L407.95,88.83 L408.45,89.69 L408.95,90.56 L409.45,91.42 L409.96,92.29 L410.46,93.15 L410.96,94.02 L411.46,94.89 L411.95,95.76 L412.43,96.63 L412.92,97.51 L413.40,98.38 L413.88,99.26 L414.36,100.13 L414.85,101.01 L415.33,101.89 L415.81,102.76 L416.29,103.64 L416.78,104.51 L417.26,105.39 L417.75,106.26 L418.23,107.14 L418.72,108.01 L419.21,108.88 L419.69,109.76 L420.18,110.63 L420.67,111.50 L421.15,112.38 L421.64,113.25 L422.14,114.12 L422.67,114.96 L423.24,115.78 L423.83,116.58 L424.43,117.39 L425.03,118.19 L425.63,118.99 L426.23,119.79 L426.83,120.59 L427.42,121.39 L428.02,122.19 L428.61,123.00 L429.16,123.84 L429.67,124.69 L430.16,125.56 L430.65,126.43 L431.15,127.31 L431.64,128.18 L432.13,129.05 L432.62,129.92 L433.11,130.79 L433.60,131.66 L434.09,132.53 L434.58,133.40 L435.07,134.27 L435.56,135.15 L436.06,136.02 L436.55,136.89 L437.03,137.76 L437.49,138.65 L437.92,139.55 L438.33,140.46 L438.74,141.38 L439.15,142.29 L439.56,143.20 L439.97,144.11 L440.38,145.02 L440.79,145.94 L441.20,146.85 L441.61,147.76 L442.02,148.67 L442.43,149.58 L442.85,150.49 L443.26,151.40 L443.68,152.31 L444.09,153.22 L444.51,154.13 L444.93,155.04 L445.34,155.95 L445.76,156.86 L446.18,157.77 L446.59,158.68 L447.01,159.59 L447.43,160.49 L447.85,161.40 L448.28,162.30 L448.75,163.18 L449.24,164.05 L449.74,164.92 L450.23,165.79 L450.73,166.66 L451.23,167.53 L451.72,168.40 L452.22,169.27 L452.71,170.13 L453.21,171.00 L453.70,171.87 L454.20,172.74 L454.69,173.61 L455.19,174.48 L455.69,175.34 L456.21,176.20 L456.75,177.04 L457.29,177.88 L457.84,178.72 L458.38,179.56 L458.93,180.39 L459.47,181.23 L460.03,182.06 L460.60,182.88 L461.20,183.68 L461.80,184.48 L462.41,185.28 L463.01,186.07 L463.62,186.87 L464.22,187.67 L464.82,188.46 L465.43,189.26 L466.03,190.06 L466.65,190.85 L467.27,191.62 L467.92,192.39 L468.57,193.15 L469.22,193.91 L469.87,194.67 L470.52,195.43 L471.17,196.19 L471.82,196.95 L472.47,197.71 L473.15,198.44 L473.87,199.12 L474.65,199.74 L475.44,200.35 L476.24,200.95 L477.04,201.56 L477.83,202.16 L478.63,202.77 L479.43,203.37 L480.22,203.98 L481.02,204.58 L481.83,205.17 L482.66,205.72 L483.51,206.25 L484.36,206.77 L485.22,207.29 L486.07,207.81 L486.93,208.32 L487.78,208.84 L488.64,209.36 L489.49,209.88 L490.35,210.40 L491.21,210.91 L492.06,211.42 L492.95,211.88 L493.88,212.23 L494.83,212.51 L495.79,212.79 L496.76,213.06 L497.72,213.33 L498.68,213.60 L499.64,213.87 L500.61,214.14 L501.57,214.41 L502.53,214.68 L503.50,214.95 L504.46,215.22 L505.42,215.49 L506.38,215.76 L507.35,216.03 L508.32,216.26 L509.30,216.42 L510.29,216.56 L511.28,216.69 L512.28,216.82 L513.27,216.94 L514.26,217.07 L515.25,217.20 L516.24,217.33 L517.23,217.46 L518.23,217.59 L519.22,217.72 L520.21,217.84 L521.20,217.93 L522.20,217.96 L523.20,217.93 L524.20,217.90 L525.20,217.86 L526.20,217.83 L527.20,217.79 L528.19,217.75 L529.19,217.72 L530.19,217.68 L531.19,217.65 L532.19,217.61 L533.19,217.57 L534.19,217.54 L535.19,217.50 L536.18,217.47 L537.06,217.43 L538.00,217.40" fill="none" stroke="#000000" stroke-width="1.35" stroke-linejoin="round" stroke-linecap="round"/>
<rect x="128" y="114.2" width="130.6" height="60.6" fill="#fff" stroke="#666" stroke-width="1.3"/>
<path d="M129,122.5 H151.6" stroke="#000000" stroke-width="1.6"/>
<text x="154" y="125.90" font-size="9" font-weight="bold" letter-spacing="0.15" fill="#111">TCPP</text>
<path d="M129,138.3 H151.6" stroke="#ff0000" stroke-width="1.6"/>
<text x="154" y="141.70" font-size="9" font-weight="bold" letter-spacing="0.15" fill="#111">TCPP nanobelts</text>
<path d="M129,154 H151.6" stroke="#0000ff" stroke-width="1.6"/>
<text x="156.8" y="157.40" font-size="9" font-weight="bold" letter-spacing="0.15" fill="#111">GNPs-TCPP nanobelts</text>
<path d="M129,168.9 H151.6" stroke="#139393" stroke-width="1.6"/>
<text x="154" y="172.30" font-size="9" font-weight="bold" letter-spacing="0.15" fill="#111">GNPs</text>
<rect x="385.5" y="10.7" width="149" height="43" fill="#fff" stroke="#666" stroke-width="1.3"/>
<path d="M387.2,18.4 H409.3" stroke="#000000" stroke-width="1.6"/>
<text x="413.4" y="22.40" font-size="11" font-weight="bold" fill="#111">TCPP molecule</text>
<path d="M387.2,32.8 H409.3" stroke="#ff0000" stroke-width="1.6"/>
<text x="413.4" y="36.80" font-size="11" font-weight="bold" fill="#111">TCPP nanobelts</text>
<path d="M387.2,47.2 H409.3" stroke="#0000ff" stroke-width="1.6"/>
<text x="413.4" y="51.20" font-size="11" font-weight="bold" fill="#111">GNPs-TCPP nanobelts</text>
</svg>
</body></html>
